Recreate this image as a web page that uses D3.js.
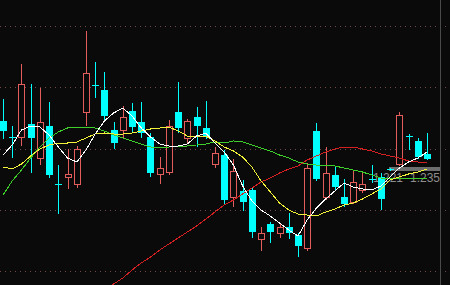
<!DOCTYPE html>
<html>
<head>
<meta charset="utf-8">
<script src="https://cdn.jsdelivr.net/npm/d3@7/dist/d3.min.js"></script>
<style>
  body { margin: 0; background: #0a0a0a; overflow: hidden; }
</style>
</head>
<body>
<div id="vis"></div>
<script>
// daily candles, oldest first
const open  = [1.179,1.163,1.163,1.176,1.142,1.174,1.116,1.123,1.116,1.188,1.215,1.210,1.170,1.170,1.189,1.178,1.163,1.126,1.128,1.188,1.162,1.183,1.172,1.136,1.145,1.103,1.109,1.110,1.061,1.076,1.067,1.073,1.065,1.052,1.169,1.103,1.125,1.103,1.098,1.110,1.121,1.123,1.131,1.136,1.164,1.159,1.146];
const high  = [1.201,1.174,1.236,1.216,1.212,1.198,1.135,1.151,1.154,1.269,1.238,1.228,1.178,1.194,1.197,1.198,1.167,1.143,1.180,1.218,1.181,1.193,1.199,1.153,1.150,1.141,1.120,1.112,1.073,1.078,1.077,1.087,1.067,1.137,1.177,1.153,1.134,1.121,1.129,1.127,1.135,1.127,1.132,1.188,1.166,1.162,1.167];
const low   = [1.162,1.143,1.155,1.128,1.136,1.123,1.087,1.112,1.113,1.175,1.203,1.180,1.152,1.162,1.169,1.163,1.124,1.117,1.126,1.168,1.158,1.154,1.162,1.133,1.097,1.094,1.090,1.063,1.050,1.058,1.063,1.062,1.044,1.050,1.120,1.101,1.111,1.094,1.097,1.108,1.118,1.091,1.130,1.135,1.151,1.142,1.141];
const close = [1.169,1.163,1.216,1.162,1.178,1.125,1.116,1.126,1.151,1.227,1.215,1.184,1.157,1.183,1.173,1.167,1.127,1.132,1.174,1.172,1.179,1.174,1.163,1.147,1.100,1.129,1.098,1.068,1.067,1.068,1.073,1.067,1.054,1.132,1.121,1.127,1.113,1.096,1.118,1.116,1.121,1.101,1.131,1.185,1.164,1.143,1.141];

// moving averages as shown on the chart
const ma5  = [1.145,1.155,1.170,1.174,1.173,1.165,1.153,1.142,1.138,1.150,1.166,1.179,1.187,1.192,1.184,1.172,1.163,1.156,1.154,1.154,1.156,1.164,1.167,1.157,1.148,1.135,1.114,1.099,1.090,1.084,1.077,1.070,1.064,1.080,1.092,1.101,1.109,1.117,1.113,1.111,1.110,1.114,1.123,1.132,1.138,1.142,1.148];
const ma10 = [1.133,1.131,1.136,1.144,1.151,1.155,1.157,1.157,1.158,1.162,1.166,1.167,1.166,1.166,1.167,1.169,1.171,1.172,1.173,1.169,1.164,1.163,1.164,1.159,1.153,1.149,1.143,1.133,1.119,1.108,1.097,1.090,1.086,1.085,1.084,1.088,1.091,1.095,1.097,1.101,1.106,1.111,1.120,1.123,1.126,1.128,1.131];
const ma20 = [1.105,1.119,1.130,1.142,1.153,1.162,1.168,1.172,1.173,1.173,1.172,1.169,1.165,1.162,1.159,1.156,1.153,1.152,1.153,1.154,1.154,1.155,1.156,1.158,1.157,1.159,1.158,1.155,1.152,1.149,1.145,1.142,1.138,1.136,1.135,1.135,1.134,1.132,1.130,1.128,1.125,1.122,1.121,1.122,1.121,1.122,1.122];
const ma60 = [null,null,null,null,null,null,null,null,null,null,1.001,1.008,1.016,1.022,1.030,1.037,1.043,1.050,1.056,1.062,1.068,1.074,1.081,1.088,1.095,1.100,1.106,1.112,1.118,1.122,1.127,1.131,1.134,1.140,1.144,1.148,1.151,1.153,1.153,1.151,1.149,1.146,1.144,1.142,1.139,1.138,1.137];

// horizontal dotted levels and value labels
const gridLevels = [1.2745, 1.2130, 1.1515, 1.0900, 1.0285];
const valueLabels = ['1.221', '1.235'];

const width = 450;
const height = 285;
const plotRight = 440;

const svg = d3.select('#vis')
    .append('svg')
    .attr('width', width)
    .attr('height', height)
    .style('display', 'block')
    .style('background', '#0a0a0a');

const x = d3.scaleLinear().domain([0, open.length - 1]).range([3, 427]);
const y = d3.scaleLinear().domain([1.3, 1.015]).range([0, height]);
const cx = i => Math.round(x(i)) + 0.5;
const py = v => Math.round(y(v));

// grid
svg.selectAll('.grid')
    .data(gridLevels)
    .join('line')
    .attr('x1', 0)
    .attr('x2', 446)
    .attr('y1', d => py(d) + 0.5)
    .attr('y2', d => py(d) + 0.5)
    .style('stroke', '#704848')
    .style('stroke-dasharray', '1,4');

// right border
svg.append('line')
    .attr('x1', plotRight + 0.5)
    .attr('x2', plotRight + 0.5)
    .attr('y1', 0)
    .attr('y2', height)
    .style('stroke', '#4a4a4a');

// grey marker and labels
svg.append('rect')
    .attr('x', 389)
    .attr('y', 167)
    .attr('width', plotRight - 389)
    .attr('height', 4)
    .style('fill', '#6e6e6e');

svg.selectAll('.vlabel')
    .data(valueLabels)
    .join('text')
    .attr('x', (d, i) => i === 0 ? 373 : 410)
    .attr('y', 182)
    .text(d => d)
    .style('font-family', 'Liberation Sans, Arial, sans-serif')
    .style('font-size', '12px')
    .style('fill', '#8c8c8c');

const idx = d3.range(open.length);
const up = i => close[i] > open[i];
const red = '#e35d5d';
const cyan = '#00ffff';

const candles = svg.append('g');

// wicks
candles.selectAll('.wick')
    .data(idx)
    .join('line')
    .attr('x1', cx)
    .attr('x2', cx)
    .attr('y1', i => py(high[i]))
    .attr('y2', i => py(low[i]) + 1)
    .style('stroke', i => up(i) ? red : cyan);

// falling candles: filled cyan
candles.selectAll('.down')
    .data(idx.filter(i => !up(i) && close[i] !== open[i]))
    .join('rect')
    .attr('x', i => cx(i) - 3.5)
    .attr('y', i => py(open[i]))
    .attr('width', 7)
    .attr('height', i => Math.max(1, py(close[i]) - py(open[i])))
    .style('fill', cyan);

// doji crosses
candles.selectAll('.doji')
    .data(idx.filter(i => close[i] === open[i]))
    .join('line')
    .attr('x1', i => cx(i) - 3.5)
    .attr('x2', i => cx(i) + 3.5)
    .attr('y1', i => py(open[i]) + 0.5)
    .attr('y2', i => py(open[i]) + 0.5)
    .style('stroke', cyan);

// rising candles: hollow red
candles.selectAll('.up')
    .data(idx.filter(up))
    .join('rect')
    .attr('x', i => cx(i) - 3)
    .attr('y', i => py(close[i]) + 0.5)
    .attr('width', 6)
    .attr('height', i => Math.max(1, py(open[i]) - py(close[i])))
    .style('fill', '#0a0a0a')
    .style('stroke', red);

// moving average lines
const maLines = [
    {values: ma60, color: '#d42020'},
    {values: ma20, color: '#3fcf2a'},
    {values: ma10, color: '#f2f23a'},
    {values: ma5, color: '#ffffff'}
];

const line = d3.line()
    .defined(d => d.v !== null)
    .x(d => x(d.i))
    .y(d => y(d.v));

svg.selectAll('.ma')
    .data(maLines)
    .join('path')
    .attr('d', d => line(d.values.map((v, i) => ({i: i, v: v}))))
    .style('fill', 'none')
    .style('stroke', d => d.color)
    .style('stroke-width', 1)
    .style('shape-rendering', 'crispEdges');
</script>
</body>
</html>
